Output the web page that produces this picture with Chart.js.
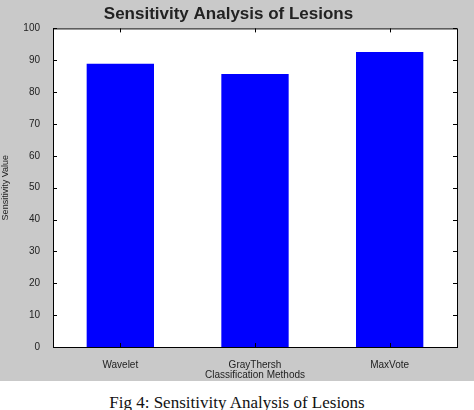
<!DOCTYPE html>
<html><head><meta charset="utf-8">
<script src="https://cdn.jsdelivr.net/npm/chart.js@4"></script>
<style>
body{margin:0;background:#fff;width:474px;height:410px;overflow:hidden}
#wrap{width:474px;height:381px;background:#c9c9c9;position:relative}
#cap{font-family:"Liberation Serif",serif;font-size:17px;text-align:center;margin-top:12px;color:#111}
</style></head><body>
<div id="wrap"><canvas id="c" width="474" height="381"></canvas></div>
<div id="cap">Fig 4: Sensitivity Analysis of Lesions</div>
<script>
const categories=["Wavelet","GrayThersh","MaxVote"];
const sensitivity=[88.9,85.7,92.6];
const yTicks=[0,10,20,30,40,50,60,70,80,90,100];
const F='"Liberation Sans", Arial, sans-serif';
const ticksPlugin={id:'mt',afterDraw(ch){
 const c=ch.ctx,a=ch.chartArea,x=ch.scales.x,y=ch.scales.y;
 c.save();c.strokeStyle='#000';c.lineWidth=1;c.beginPath();
 yTicks.forEach(v=>{const p=Math.round(y.getPixelForValue(v))+0.5;c.moveTo(a.left,p);c.lineTo(a.left+4,p);c.moveTo(a.right,p);c.lineTo(a.right-4,p);});
 categories.forEach((_,i)=>{const p=Math.round(x.getPixelForValue(i))+0.5;c.moveTo(p,a.bottom);c.lineTo(p,a.bottom-4);c.moveTo(p,a.top);c.lineTo(p,a.top+4);});
 c.stroke();c.strokeRect(a.left+0.5,a.top+0.5,a.right-a.left,a.bottom-a.top);c.restore();}};
const bgPlugin={id:'bg',beforeDraw(ch){const c=ch.ctx,a=ch.chartArea;c.save();c.fillStyle='#fff';c.fillRect(a.left,a.top,a.right-a.left,a.bottom-a.top);c.restore();}};
new Chart(document.getElementById('c'),{type:'bar',
data:{labels:categories,datasets:[{data:sensitivity,backgroundColor:'#0000ff',barPercentage:0.5,categoryPercentage:1}]},
options:{responsive:false,animation:false,
 layout:{padding:{right:17}},
 plugins:{legend:{display:false},tooltip:{enabled:false},
  title:{display:true,text:'Sensitivity Analysis of Lesions',color:'#222',font:{family:F,size:17},padding:{top:4,bottom:4}}},
 scales:{
  x:{grid:{display:false},border:{display:false},ticks:{color:'#222',font:{family:F,size:10},padding:4},
     title:{display:true,text:'Classification Methods',color:'#222',font:{family:F,size:10},padding:0},
     afterFit(s){s.height=34;}},
  y:{min:0,max:100,grid:{display:false},border:{display:false},
     afterBuildTicks(s){s.ticks=yTicks.map(v=>({value:v}));},
     ticks:{color:'#222',font:{family:F,size:10},padding:5},
     title:{display:true,text:'Sensitivity Value',color:'#222',font:{family:F,size:9},padding:0},
     afterFit(s){s.width=53;}}}},
plugins:[bgPlugin,ticksPlugin]});
</script></body></html>
